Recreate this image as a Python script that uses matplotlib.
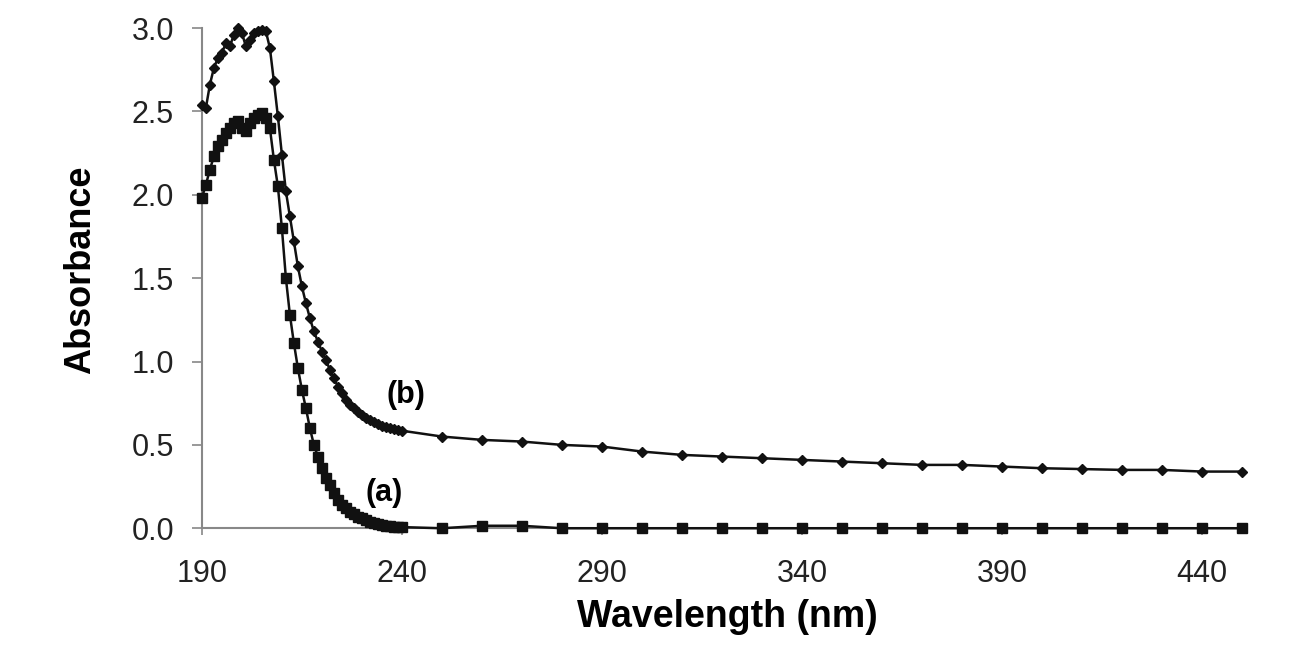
import numpy as np
import matplotlib.pyplot as plt

plt.rcParams['font.family'] = ['Liberation Sans', 'DejaVu Sans']

# wavelength grid: 1 nm steps up to 240, then 10 nm steps
wavelength = list(range(190, 241)) + list(range(250, 451, 10))

absorb_a = [1.98, 2.06, 2.15, 2.23, 2.29, 2.33, 2.37, 2.40, 2.43, 2.44,
            2.40, 2.38, 2.43, 2.46, 2.48, 2.49, 2.46, 2.40, 2.21, 2.05,
            1.80, 1.50, 1.28, 1.11, 0.96, 0.83, 0.72, 0.60, 0.50, 0.43,
            0.36, 0.30, 0.26, 0.21, 0.17, 0.14, 0.12, 0.10, 0.085, 0.07,
            0.06, 0.05, 0.04, 0.032, 0.025, 0.02, 0.015, 0.012, 0.01, 0.008,
            0.007,
            0.0, 0.015, 0.015, 0.0, 0.0, 0.0, 0.0, 0.0, 0.0, 0.0,
            0.0, 0.0, 0.0, 0.0, 0.0, 0.0, 0.0, 0.0, 0.0, 0.0, 0.0]

absorb_b = [2.54, 2.52, 2.66, 2.76, 2.82, 2.85, 2.91, 2.89, 2.96, 3.00,
            2.97, 2.89, 2.93, 2.97, 2.98, 2.99, 2.98, 2.88, 2.68, 2.47,
            2.24, 2.02, 1.87, 1.72, 1.57, 1.45, 1.35, 1.26, 1.18, 1.12,
            1.06, 1.01, 0.95, 0.90, 0.85, 0.81, 0.77, 0.74, 0.72, 0.70,
            0.68, 0.66, 0.65, 0.635, 0.625, 0.615, 0.61, 0.60, 0.595, 0.59,
            0.585,
            0.55, 0.53, 0.52, 0.50, 0.49, 0.46, 0.44, 0.43, 0.42, 0.41,
            0.40, 0.39, 0.38, 0.38, 0.37, 0.36, 0.355, 0.35, 0.35, 0.34, 0.34]

x_ticks = [190, 240, 290, 340, 390, 440]
y_ticks = [0.0, 0.5, 1.0, 1.5, 2.0, 2.5, 3.0]

fig = plt.figure(figsize=(12.94, 6.67), dpi=100)
ax = fig.add_axes([0.156, 0.208, 0.804, 0.75])

ax.plot(wavelength, absorb_a, color='#111111', lw=1.8, marker='s',
        markersize=7.5, clip_on=False, zorder=3)
ax.plot(wavelength, absorb_b, color='#111111', lw=1.8, marker='D',
        markersize=5.5, clip_on=False, zorder=3)

ax.text(241, 0.80, '(b)', fontsize=22, fontweight='bold', ha='center', va='center')
ax.text(235.5, 0.21, '(a)', fontsize=22, fontweight='bold', ha='center', va='center')

ax.set_xlim(190, 450)
ax.set_ylim(0, 3.0)
ax.set_xticks(x_ticks)
ax.set_yticks(y_ticks)
ax.set_yticklabels([f'{v:.1f}' for v in y_ticks])

for s in ['top', 'right']:
    ax.spines[s].set_visible(False)
for s in ['left', 'bottom']:
    ax.spines[s].set_color('#888888')
    ax.spines[s].set_linewidth(1.5)

ax.tick_params(axis='both', colors='#888888', labelcolor='#222222',
               labelsize=22, width=1.2)
ax.tick_params(axis='y', length=7, pad=13)
ax.tick_params(axis='x', length=5, pad=17)

ax.set_xlabel('Wavelength (nm)', fontsize=27, fontweight='bold', va='center')
ax.xaxis.set_label_coords(0.505, -0.178)
ax.set_ylabel('Absorbance', fontsize=26, fontweight='bold', va='center')
ax.yaxis.set_label_coords(-0.117, 0.516)

fig.savefig('out.png', dpi=100)
